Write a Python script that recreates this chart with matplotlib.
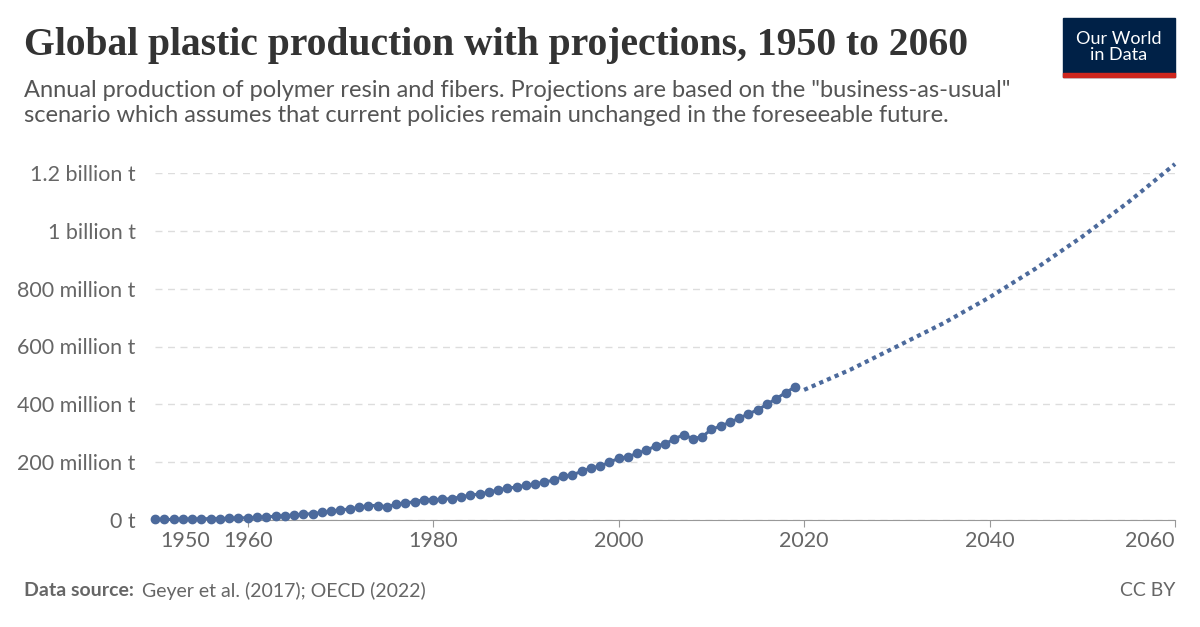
import matplotlib
matplotlib.use("Agg")
import matplotlib.pyplot as plt
from matplotlib.patches import Rectangle

years = list(range(1950, 2020))
production_mt = [2, 2, 2, 3, 3, 4, 5, 5, 6, 7, 8, 9, 11, 13, 15, 17, 20, 22, 26, 30,
                 35, 38, 44, 50, 50, 46, 54, 59, 63, 70, 70, 72, 74, 80, 86, 90, 96, 104, 110, 114,
                 120, 124, 132, 137, 151, 156, 168, 180, 186, 200, 213, 218, 231, 241, 256, 263, 280, 295, 281, 288,
                 313, 325, 338, 352, 367, 381, 400, 420, 440, 460]
proj_years = [2020, 2025, 2030, 2035, 2040, 2045, 2050, 2055, 2060]
proj_mt = [450, 520, 600, 680, 770, 870, 980, 1100, 1231]
yticks = [0, 200, 400, 600, 800, 1000, 1200]
ytick_labels = ["0 t", "200 million t", "400 million t", "600 million t", "800 million t", "1 billion t", "1.2 billion t"]
xticks = [1960, 1980, 2000, 2020, 2040, 2060]

plt.rcParams['font.family'] = ['Lato', 'DejaVu Sans']
fig = plt.figure(figsize=(12, 6.27), dpi=100)
W, H = 1200, 627
ax = fig.add_axes([155/W, 1-520/H, (1175-155)/W, (520-173)/H])
col = "#4c6a9c"
ax.plot(years, production_mt, color=col, lw=2.2, marker='o', ms=6, clip_on=False, zorder=3)
ax.plot(proj_years, proj_mt, color=col, lw=3, ls=(0, (1, 1)), clip_on=False, zorder=3)
ax.set_xlim(1950, 2060)
ax.set_ylim(0, 1200)
ax.set_yticks(yticks)
ax.set_yticklabels(ytick_labels)
ax.set_xticks(xticks)
ax.set_xticklabels([str(x) for x in xticks])
ax.get_xticklabels()[-1].set_ha('right')
ax.annotate("1950", xy=(1953.3, 0), xycoords=('data', 'axes fraction'), xytext=(0, -8),
            textcoords='offset points', ha='center', va='top', fontsize=15.5, color='#666666')
for s in ['top', 'right', 'left']:
    ax.spines[s].set_visible(False)
ax.spines['bottom'].set_color('#999999')
ax.tick_params(axis='y', length=0, labelsize=15.5, labelcolor='#666666', pad=14)
ax.tick_params(axis='x', length=5, color='#999999', labelsize=15.5, labelcolor='#666666', pad=3)
ax.grid(axis='y', color='#dddddd', ls=(0, (5, 4)), lw=1)
ax.set_axisbelow(True)

fig.text(24/W, 1-45/H, "Global plastic production with projections, 1950 to 2060",
         family=['Liberation Serif', 'DejaVu Serif'], fontsize=28.5, fontweight='bold', color='#333333', va='center')
fig.text(24/W, 1-103/H, 'Annual production of polymer resin and fibers. Projections are based on the "business-as-usual"\n'
         'scenario which assumes that current policies remain unchanged in the foreseeable future.',
         fontsize=17, color='#555555', va='center', linespacing=1.2)
fig.text(24/W, 1-591/H, "Data source:", fontsize=14, fontweight='bold', color='#666666', va='center')
fig.text(142/W, 1-591/H, "Geyer et al. (2017); OECD (2022)", fontsize=14, color='#666666', va='center')
fig.text(1175/W, 1-591/H, "CC BY", fontsize=14, color='#666666', va='center', ha='right')
fig.patches.append(Rectangle((1063/W, 1-77/H), 112/W, 59/H, transform=fig.transFigure, color='#002147'))
fig.patches.append(Rectangle((1063/W, 1-77/H), 112/W, 4/H, transform=fig.transFigure, color='#ce261e'))
fig.text(1119/W, 1-47/H, "Our World\nin Data", fontsize=13, color='white', ha='center', va='center', linespacing=1.0)
fig.savefig("out.png", dpi=100, facecolor='white')
